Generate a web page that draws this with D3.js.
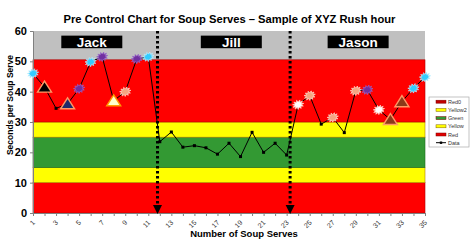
<!DOCTYPE html>
<html><head><meta charset="utf-8">
<script src="https://cdn.jsdelivr.net/npm/d3@7"></script>
<style>body{margin:0;background:#fff}svg{display:block}text{font-family:"Liberation Sans",Arial,sans-serif}</style>
</head><body><svg id="c" width="474" height="242"></svg>
<script>
// ---- data ----
const serves = [1,2,3,4,5,6,7,8,9,10,11,12,13,14,15,16,17,18,19,20,21,22,23,24,25,26,27,28,29,30,31,32,33,34,35];
const seconds = [46,41.5,34.5,36,41,49.8,51.5,37,40,50.8,51.5,23.5,26.7,21.7,22.2,21.5,19.4,23,18.6,26.6,20,23,19.1,35.7,38.7,29.3,31.5,26.5,40.3,40.6,34,30.8,36.7,41.1,44.8];
const markerKinds = ["starCyan","triBlack","dot","triNavy","starPurple","starCyan","starPurple","triYellow","starPeach","starPurple","starCyan",
  "dot","dot","dot","dot","dot","dot","dot","dot","dot","dot","dot","dot",
  "starWhite","starPeach","dot","starPeach","dot","starPeach","starPurple","starWhite","triBrown","triBrown","starCyan","starCyan"];
const bandNames = ["Red","Yellow","Green","Yellow2","Red0"];
const bandLower = [0,10,15,25,30];
const bandUpper = [10,15,25,30,50.5];
const yTicks = [0,10,20,30,40,50,60];
const xTickLabels = [1,3,5,7,9,11,13,15,17,19,21,23,25,27,29,31,33,35];
const operators = ["Jack","Jill","Jason"];
const operatorPos = [6.1,18.2,29.2];
const dividers = [11.8,23.3];
const legendItems = ["Red0","Yellow2","Green","Yellow","Red","Data"];

// ---- styles ----
const bandColor = {Red:"#ff0000",Yellow:"#ffff00",Green:"#339933",Yellow2:"#ffff00",Red0:"#ff0000"};
const bandEdge = {Red:"#b00000",Yellow:"#b08000",Green:"#1d6b1d",Yellow2:"#b08000",Red0:"#b00000"};
const mk = {
  starCyan:{shape:"star",fill:"#33ccff",stroke:"#bfefff"},
  starPurple:{shape:"star",fill:"#7030a0",stroke:"#9966cc"},
  starPeach:{shape:"star",fill:"#f4a582",stroke:"#ffe0d0"},
  starWhite:{shape:"star",fill:"#ffffff",stroke:"#ffd0c0"},
  triBlack:{shape:"tri",fill:"#000000",stroke:"#ff9966"},
  triNavy:{shape:"tri",fill:"#1f2a6b",stroke:"#ff9966"},
  triYellow:{shape:"tri",fill:"#ffffcc",stroke:"#ff9900"},
  triBrown:{shape:"tri",fill:"#8b3a1a",stroke:"#ff9966"},
  dot:{shape:"dot",fill:"#000",stroke:"#000"}
};

const svg = d3.select("#c");
svg.append("rect").attr("width",474).attr("height",242).attr("fill","#fff");
const x = d3.scaleLinear().domain([1,35]).range([33,425]);
const y = d3.scaleLinear().domain([0,60]).range([213,31]);

// plot background
svg.append("rect").attr("x",x(1)).attr("y",y(60)).attr("width",x(35)-x(1)).attr("height",y(0)-y(60)).attr("fill","#c0c0c0");
// bands
bandNames.forEach((b,i)=>{
  svg.append("rect").attr("x",x(1)).attr("width",x(35)-x(1))
    .attr("y",y(bandUpper[i])).attr("height",y(bandLower[i])-y(bandUpper[i]))
    .attr("fill",bandColor[b]).attr("stroke",bandEdge[b]).attr("stroke-width",0.6);
});

// axes
const yAxis = d3.axisLeft(y).tickValues(yTicks).tickSize(3).tickPadding(3);
const gy = svg.append("g").attr("transform",`translate(${x(1)},0)`).call(yAxis);
gy.select(".domain").attr("stroke","#808080");
gy.selectAll(".tick line").attr("stroke","#808080");
gy.selectAll("text").attr("font-size",11).attr("font-weight","bold").attr("fill","#000");

const xAxis = d3.axisBottom(x).tickValues(serves).tickSize(3).tickFormat(d=>xTickLabels.includes(d)?d:"");
const gx = svg.append("g").attr("transform",`translate(0,${y(0)})`).call(xAxis);
gx.select(".domain").attr("stroke","#808080");
gx.selectAll(".tick line").attr("stroke","#808080");
gx.selectAll("text").attr("font-size",7).attr("fill","#333")
  .attr("text-anchor","end").attr("dy",0).attr("y",0)
  .attr("transform","translate(2,10) rotate(-45)");

// operator labels
operators.forEach((o,i)=>{
  const cx = x(operatorPos[i]), cy = y(56.4);
  svg.append("rect").attr("x",cx-30.5).attr("y",cy-6.3).attr("width",61).attr("height",12.6).attr("fill","#000");
  svg.append("text").attr("x",cx).attr("y",cy+4.8).attr("text-anchor","middle")
    .attr("font-size",13.5).attr("font-weight","bold").attr("fill","#fff").text(o);
});

// data line
const pts = serves.map((s,i)=>[s,seconds[i]]);
svg.append("path").datum(pts).attr("fill","none").attr("stroke","#000").attr("stroke-width",1)
  .attr("d",d3.line().x(d=>x(d[0])).y(d=>y(d[1])));

// dividers
dividers.forEach(d=>{
  svg.append("line").attr("x1",x(d)).attr("x2",x(d)).attr("y1",y(60)).attr("y2",y(0)-5)
    .attr("stroke","#000").attr("stroke-width",3).attr("stroke-dasharray","2.5,2.5");
  svg.append("path").attr("d",`M${x(d)-4.5},${y(0)-8} L${x(d)+4.5},${y(0)-8} L${x(d)},${y(0)+1} Z`).attr("fill","#000");
});

// markers
function starPath(r1,r2,n){
  let p="";
  for(let k=0;k<2*n;k++){
    const r = k%2===0?r1:r2, a = Math.PI*k/n - Math.PI/2;
    p += (k?"L":"M")+(r*Math.cos(a)).toFixed(2)+","+(r*Math.sin(a)).toFixed(2);
  }
  return p+"Z";
}
const triPath = "M0,-6L7,5L-7,5Z";
serves.forEach((s,i)=>{
  const m = mk[markerKinds[i]];
  const g = svg.append("g").attr("transform",`translate(${x(s)},${y(seconds[i])})`);
  if(m.shape==="star"){
    g.append("path").attr("d",starPath(5.8,3.4,11)).attr("fill",m.fill).attr("stroke",m.stroke).attr("stroke-width",0.7)
      .attr("transform","rotate(-20) scale(1,0.8)");
  } else if(m.shape==="tri"){
    g.append("path").attr("d",triPath).attr("fill",m.fill).attr("stroke",m.stroke).attr("stroke-width",1.4);
  } else {
    g.append("rect").attr("x",-1.5).attr("y",-1.5).attr("width",3).attr("height",3).attr("fill","#000");
  }
});

// title
svg.append("text").attr("x",229.5).attr("y",23).attr("text-anchor","middle").attr("font-size",11.2)
  .attr("font-weight","bold").text("Pre Control Chart for Soup Serves \u2013 Sample of XYZ Rush hour");
svg.append("text").attr("x",244).attr("y",237).attr("text-anchor","middle").attr("font-size",9.5)
  .attr("font-weight","bold").text("Number of Soup Serves");
svg.append("text").attr("transform","translate(12.5,105) rotate(-90)").attr("text-anchor","middle").attr("font-size",8.5)
  .attr("font-weight","bold").text("Seconds per Soup Serve");

// legend
const lg = svg.append("g");
lg.append("rect").attr("x",429).attr("y",97).attr("width",40).attr("height",50).attr("fill","#fff").attr("stroke","#aaa").attr("stroke-width",0.7);
const legColor = {Red0:"#c00000",Yellow2:"#ffff00",Green:"#339933",Yellow:"#ffff00",Red:"#e00000"};
legendItems.forEach((n,i)=>{
  const yy = 101.7 + i*8.2;
  if(n==="Data"){
    lg.append("line").attr("x1",436).attr("x2",446).attr("y1",yy).attr("y2",yy).attr("stroke","#000").attr("stroke-width",1);
    lg.append("rect").attr("x",439.8).attr("y",yy-1.2).attr("width",2.4).attr("height",2.4).attr("fill","#000");
  } else {
    lg.append("rect").attr("x",436).attr("y",yy-1.5).attr("width",10).attr("height",3).attr("fill",legColor[n])
      .attr("stroke",n.startsWith("Yellow")?"#806000":"#800000").attr("stroke-width",0.5);
  }
  lg.append("text").attr("x",448).attr("y",yy+2).attr("font-size",5.5).attr("fill","#333").text(n);
});
</script></body></html>
